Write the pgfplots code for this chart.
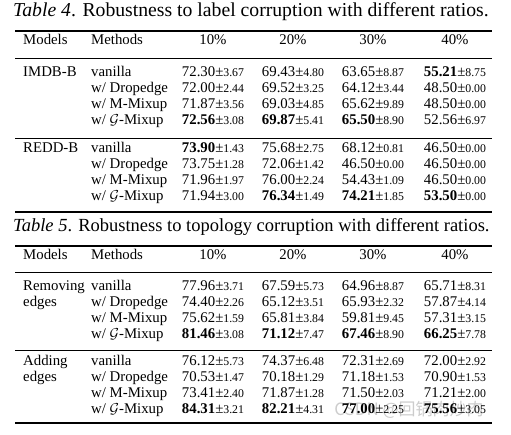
\documentclass[border=0pt]{standalone}
\usepackage{pgfplots}
\usepackage{pgfplotstable}
\pgfplotsset{compat=1.18}
\usepackage{fontspec}
\setmainfont{Liberation Serif}
\newfontfamily\cjk{Noto Sans CJK SC}

% cell = mean/std/bold
% table 4: label corruption
\pgfplotstableread{
x   y    cell
213 74   72.30/3.67/0
293 74   69.43/4.80/0
373 74   63.65/8.87/0
455 74   55.21/8.75/1
213 90   72.00/2.44/0
293 90   69.52/3.25/0
373 90   64.12/3.44/0
455 90   48.50/0.00/0
213 106  71.87/3.56/0
293 106  69.03/4.85/0
373 106  65.62/9.89/0
455 106  48.50/0.00/0
213 122  72.56/3.08/1
293 122  69.87/5.41/1
373 122  65.50/8.90/1
455 122  52.56/6.97/0
213 150  73.90/1.43/1
293 150  75.68/2.75/0
373 150  68.12/0.81/0
455 150  46.50/0.00/0
213 166  73.75/1.28/0
293 166  72.06/1.42/0
373 166  46.50/0.00/0
455 166  46.50/0.00/0
213 182  71.96/1.97/0
293 182  76.00/2.24/0
373 182  54.43/1.09/0
455 182  46.50/0.00/0
213 198  71.94/3.00/0
293 198  76.34/1.49/1
373 198  74.21/1.85/1
455 198  53.50/0.00/1
}\tabfour

% table 5: topology corruption
\pgfplotstableread{
x   y    cell
213 288  77.96/3.71/0
293 288  67.59/5.73/0
373 288  64.96/8.87/0
455 288  65.71/8.31/0
213 304  74.40/2.26/0
293 304  65.12/3.51/0
373 304  65.93/2.32/0
455 304  57.87/4.14/0
213 320  75.62/1.59/0
293 320  65.81/3.84/0
373 320  59.81/9.45/0
455 320  57.31/3.15/0
213 336  81.46/3.08/1
293 336  71.12/7.47/1
373 336  67.46/8.90/1
455 336  66.25/7.78/1
213 363  76.12/5.73/0
293 363  74.37/6.48/0
373 363  72.31/2.69/0
455 363  72.00/2.92/0
213 379  70.53/1.47/0
293 379  70.18/1.29/0
373 379  71.18/1.53/0
455 379  70.90/1.53/0
213 395  73.41/2.40/0
293 395  71.87/1.28/0
373 395  71.50/2.03/0
455 395  71.21/2.00/0
213 411  84.31/3.21/1
293 411  82.21/4.31/1
373 411  77.00/2.25/1
455 411  75.56/3.05/1
}\tabfive

\newcommand{\txt}{\fontsize{14.8}{16}\selectfont}
\newcommand{\gm}{w/ $\mathcal{G}$-Mixup}
\def\cellparse#1/#2/#3\relax{\txt\ifnum#3=1 \textbf{#1}\else#1\fi±{\fontsize{11.8}{12}\selectfont#2}}

\pgfplotsset{
  tabcells/.style={
    draw=none, mark=none,
    point meta=explicit symbolic,
    nodes near coords={\expandafter\cellparse\pgfplotspointmeta\relax},
    nodes near coords align={center},
    every node near coord/.append style={anchor=mid, inner sep=0pt, text=black},
  },
}
\tikzset{
  lt/.style={anchor=mid west, inner sep=0pt},
  ct/.style={anchor=mid, inner sep=0pt},
}

\begin{document}
\begin{tikzpicture}
\begin{axis}[
    hide axis, scale only axis,
    width=511pt, height=435pt,
    xmin=0, xmax=511, ymin=0, ymax=435,
    y dir=reverse, clip=false,
  ]
  \path (rel axis cs:0,0) rectangle (rel axis cs:1,1);

  % ---- Table 4 ----
  \node[lt] at (axis cs:13,14)
    {\fontsize{19.7}{21}\selectfont\textit{Table 4}. Robustness to label corruption with different ratios.};
  \draw[black, line width=1.2pt] (axis cs:15,31) -- (axis cs:492,31);
  \draw[black, line width=0.6pt] (axis cs:15,58) -- (axis cs:492,58);
  \draw[black, line width=0.6pt] (axis cs:15,138) -- (axis cs:492,138);
  \draw[black, line width=1.2pt] (axis cs:15,212) -- (axis cs:492,212);
  \node[lt] at (axis cs:23,42) {\txt Models};
  \node[lt] at (axis cs:91,42) {\txt Methods};
  \node[ct] at (axis cs:213,42) {\txt 10\%};
  \node[ct] at (axis cs:293,42) {\txt 20\%};
  \node[ct] at (axis cs:373,42) {\txt 30\%};
  \node[ct] at (axis cs:455,42) {\txt 40\%};
  \node[lt] at (axis cs:23,74) {\txt IMDB-B};
  \node[lt] at (axis cs:91,74) {\txt vanilla};
  \node[lt] at (axis cs:91,90) {\txt w/ Dropedge};
  \node[lt] at (axis cs:91,106) {\txt w/ M-Mixup};
  \node[lt] at (axis cs:91,122) {\txt \gm};
  \node[lt] at (axis cs:23,150) {\txt REDD-B};
  \node[lt] at (axis cs:91,150) {\txt vanilla};
  \node[lt] at (axis cs:91,166) {\txt w/ Dropedge};
  \node[lt] at (axis cs:91,182) {\txt w/ M-Mixup};
  \node[lt] at (axis cs:91,198) {\txt \gm};
  \addplot[tabcells] table[x=x, y=y, meta=cell] {\tabfour};

  % ---- Table 5 ----
  \node[lt] at (axis cs:13,229)
    {\fontsize{18.5}{20}\selectfont\textit{Table 5}. Robustness to topology corruption with different ratios.};
  \draw[black, line width=1.2pt] (axis cs:15,246) -- (axis cs:492,246);
  \draw[black, line width=0.6pt] (axis cs:15,272) -- (axis cs:492,272);
  \draw[black, line width=0.6pt] (axis cs:15,350) -- (axis cs:492,350);
  \draw[black, line width=1.2pt] (axis cs:15,423) -- (axis cs:492,423);
  \node[lt] at (axis cs:23,257) {\txt Models};
  \node[lt] at (axis cs:91,257) {\txt Methods};
  \node[ct] at (axis cs:213,257) {\txt 10\%};
  \node[ct] at (axis cs:293,257) {\txt 20\%};
  \node[ct] at (axis cs:373,257) {\txt 30\%};
  \node[ct] at (axis cs:455,257) {\txt 40\%};
  \node[lt] at (axis cs:23,288) {\txt Removing};
  \node[lt] at (axis cs:23,304) {\txt edges};
  \node[lt] at (axis cs:91,288) {\txt vanilla};
  \node[lt] at (axis cs:91,304) {\txt w/ Dropedge};
  \node[lt] at (axis cs:91,320) {\txt w/ M-Mixup};
  \node[lt] at (axis cs:91,336) {\txt \gm};
  \node[lt] at (axis cs:23,363) {\txt Adding};
  \node[lt] at (axis cs:23,379) {\txt edges};
  \node[lt] at (axis cs:91,363) {\txt vanilla};
  \node[lt] at (axis cs:91,379) {\txt w/ Dropedge};
  \node[lt] at (axis cs:91,395) {\txt w/ M-Mixup};
  \node[lt] at (axis cs:91,411) {\txt \gm};
  \addplot[tabcells] table[x=x, y=y, meta=cell] {\tabfive};

  % watermark
  \node[ct, text=gray, opacity=0.4] at (axis cs:409,413)
    {\cjk\fontsize{17}{18}\selectfont CSDN @回锅肉炒肉};
\end{axis}
\end{tikzpicture}
\end{document}
